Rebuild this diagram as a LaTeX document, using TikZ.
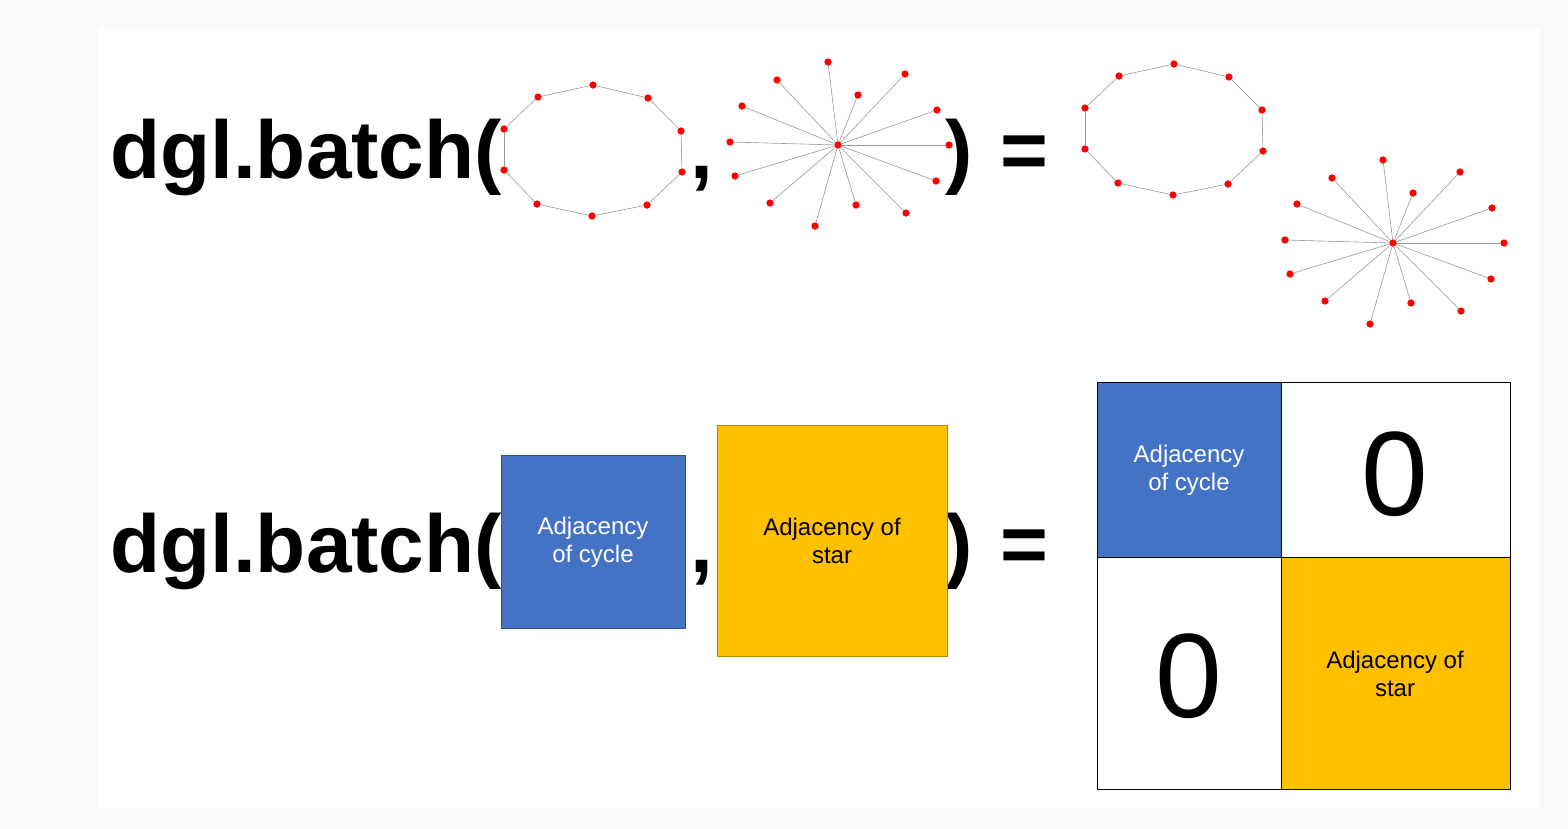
\documentclass[tikz,border=0pt]{standalone}
\usepackage{fontspec}
\setmainfont{Liberation Sans}
\begin{document}
\begin{tikzpicture}[x=1pt,y=-1pt,
  v/.style={circle,fill=red,inner sep=0pt,minimum size=7pt},
  e/.style={draw=gray!80,line width=0.6pt},
  big/.style={font=\fontsize{82}{82}\bfseries\selectfont,inner sep=0pt,anchor=base west},
  box/.style={draw=#1!70!black,line width=0.8pt,fill=#1},
  lab/.style={font=\fontsize{24}{28}\selectfont,align=center},
  zero/.style={font=\fontsize{120}{120}\selectfont}]
\definecolor{bl}{HTML}{4472C4}\definecolor{yl}{HTML}{FFC000}
\fill[black!2] (0,0) rectangle (1568,828);
\useasboundingbox (0,0) rectangle (1568,828);
\fill[white] (98,28) rectangle (1540,808);
% row 1 text
\node[big] (t1) at (110,178) {dgl.batch(};
\node[big] (c1) at (690,178) {,};
\node[big] (p1) at (945,178) {)};
\node[big] (q1) at (1000,178) {=};
\node[big] (t2) at (110,572) {dgl.batch(};
\node[big] (c2) at (690,572) {,};
\node[big] (p2) at (945,572) {)};
\node[big] (q2) at (1000,572) {=};
% graphs
\newcommand{\cyc}[3]{%
 \foreach \p [count=\i] in {(593,85),(648,98),(681,131),(682,172),(647,205),(592,216),(537,204),(504,170),(504,129),(538,97)}
   {\node[v,shift={(#1,#2)}] (#3\i) at \p {};}
 \foreach \i [evaluate=\i as \j using {int(mod(\i,10)+1)}] in {1,...,10} {\draw[e] (#3\i) -- (#3\j);}
 \foreach \i in {1,...,10} {\node[v] at (#3\i) {};}}
\newcommand{\sta}[3]{%
 \node[v,shift={(#1,#2)}] (#3c) at (838,145) {};
 \foreach \p [count=\i] in {(828,62),(905,74),(858,95),(937,110),(949,145),(936,181),(906,213),(856,205),(815,226),(770,203),(735,176),(730,142),(742,106),(777,80)}
   {\node[v,shift={(#1,#2)}] (#3\i) at \p {};\draw[e] (#3c) -- (#3\i);\node[v] at (#3\i) {};}
 \node[v] at (#3c) {};}
\cyc{0}{0}{a}
\sta{0}{0}{s}
\cyc{581}{-21}{b}
\sta{555}{98}{r}
% row 2 boxes
\draw[box=bl] (501,455) rectangle (685,628);
\node[lab,text=white] (l1) at (593,542) {Adjacency\\of cycle};
\draw[box=yl] (717,425) rectangle (947,656);
\node[lab] (l2) at (832,541) {Adjacency of\\star};
\fill[bl] (1097,382) rectangle (1281,557);
\fill[yl] (1281,557) rectangle (1510,789);
\draw[line width=0.8pt] (1097,382) rectangle (1510,789) (1281,382) -- (1281,789) (1097,557) -- (1510,557);
\node[lab,text=white] (l3) at (1189,470) {Adjacency\\of cycle};
\node[lab] (l4) at (1395,674) {Adjacency of\\star};
\node[zero] (z1) at (1395,474) {0};
\node[zero] (z2) at (1189,676) {0};
\end{tikzpicture}
\end{document}
